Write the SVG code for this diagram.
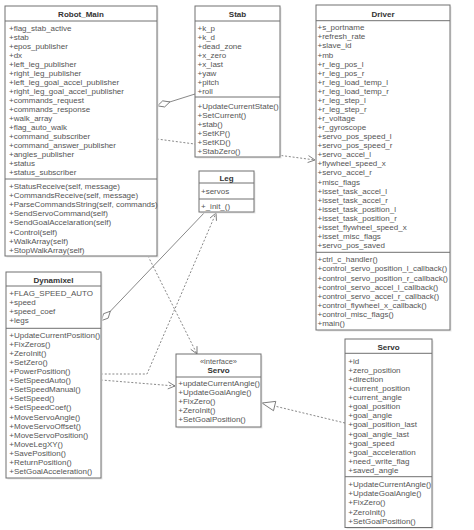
<svg xmlns="http://www.w3.org/2000/svg" width="474" height="530" viewBox="0 0 474 530">
<style>
.bg{fill:#fff}
.sh{fill:#e8e8e8}
.box{fill:#fff;stroke:#707070;stroke-width:1}
.dv{stroke:#707070;stroke-width:1}
.t{font-family:"Liberation Sans",Arial,sans-serif;font-size:8px;fill:#555}
.h{font-family:"Liberation Sans",Arial,sans-serif;font-size:8px;font-weight:bold;fill:#333;text-anchor:middle}
.st{font-family:"Liberation Sans",Arial,sans-serif;font-size:7.5px;fill:#5a5a5a;text-anchor:middle}
.c{fill:none;stroke:#6a6a6a;stroke-width:0.8}
.d{stroke-dasharray:2,1.8}
</style>
<defs>
<marker id="dia" markerUnits="userSpaceOnUse" markerWidth="16" markerHeight="10" refX="0" refY="5" orient="auto" viewBox="0 0 16 10">
<path d="M0.5,5 L7,1.8 L13.5,5 L7,8.2 Z" fill="#fff" stroke="#6a6a6a" stroke-width="0.8"/>
</marker>
<marker id="arr" markerUnits="userSpaceOnUse" markerWidth="10" markerHeight="10" refX="9" refY="5" orient="auto" viewBox="0 0 10 10">
<path d="M2,1.5 L9,5 L2,8.5" fill="none" stroke="#6a6a6a" stroke-width="0.8"/>
</marker>
<marker id="tri" markerUnits="userSpaceOnUse" markerWidth="16" markerHeight="12" refX="14" refY="6" orient="auto" viewBox="0 0 16 12">
<path d="M1,1.2 L14,6 L1,10.8 Z" fill="#fff" stroke="#6a6a6a" stroke-width="0.8"/>
</marker>
</defs>
<rect class="bg" x="0" y="0" width="474" height="530"/>

<g id="connectors">
<path class="c" d="M157,106 L195,94" marker-start="url(#dia)"/>
<path class="c" d="M101,321 L205,212" marker-start="url(#dia)"/>
<path class="c d" d="M157,139 L315,160" marker-end="url(#arr)"/>
<path class="c d" d="M148,256 L197,354" marker-end="url(#arr)"/>
<path class="c d" d="M101,374 L147,374 L216,213" marker-end="url(#arr)"/>
<path class="c d" d="M101,380 L175,386" marker-end="url(#arr)"/>
<path class="c d" d="M345,423 L262,403" marker-end="url(#tri)"/>
</g>

<g id="Robot_Main">
<rect class="sh" x="6.5" y="7.5" width="152" height="250"/>
<rect class="box" x="5" y="6" width="152" height="250"/>
<line class="dv" x1="5" y1="21" x2="157" y2="21"/>
<line class="dv" x1="5" y1="179" x2="157" y2="179"/>
<text class="h" x="81" y="16.5">Robot_Main</text>
<text class="t">
<tspan x="9" y="30.7">+flag_stab_active</tspan>
<tspan x="9" y="39.7">+stab</tspan>
<tspan x="9" y="48.8">+epos_publisher</tspan>
<tspan x="9" y="57.8">+dx</tspan>
<tspan x="9" y="66.9">+left_leg_publisher</tspan>
<tspan x="9" y="75.9">+right_leg_publisher</tspan>
<tspan x="9" y="84.9">+left_leg_goal_accel_publisher</tspan>
<tspan x="9" y="94">+right_leg_goal_accel_publisher</tspan>
<tspan x="9" y="103">+commands_request</tspan>
<tspan x="9" y="112.1">+commands_response</tspan>
<tspan x="9" y="121.1">+walk_array</tspan>
<tspan x="9" y="130.1">+flag_auto_walk</tspan>
<tspan x="9" y="139.2">+command_subscriber</tspan>
<tspan x="9" y="148.2">+command_answer_publisher</tspan>
<tspan x="9" y="157.3">+angles_publisher</tspan>
<tspan x="9" y="166.3">+status</tspan>
<tspan x="9" y="175.3">+status_subscriber</tspan>
<tspan x="9" y="188.7">+StatusReceive(self, message)</tspan>
<tspan x="9" y="197.9">+CommandsReceive(self, message)</tspan>
<tspan x="9" y="207">+ParseCommandsString(self, commands)</tspan>
<tspan x="9" y="216.2">+SendServoCommand(self)</tspan>
<tspan x="9" y="225.3">+SendGoalAccelaration(self)</tspan>
<tspan x="9" y="234.5">+Control(self)</tspan>
<tspan x="9" y="243.6">+WalkArray(self)</tspan>
<tspan x="9" y="252.8">+StopWalkArray(self)</tspan>
</text>
</g>

<g id="Stab">
<rect class="sh" x="196.5" y="7.5" width="85" height="151"/>
<rect class="box" x="195" y="6" width="85" height="151"/>
<line class="dv" x1="195" y1="21" x2="280" y2="21"/>
<line class="dv" x1="195" y1="97" x2="280" y2="97"/>
<text class="h" x="237.5" y="16.7">Stab</text>
<text class="t">
<tspan x="197.5" y="30.7">+k_p</tspan>
<tspan x="197.5" y="39.7">+k_d</tspan>
<tspan x="197.5" y="48.7">+dead_zone</tspan>
<tspan x="197.5" y="57.7">+x_zero</tspan>
<tspan x="197.5" y="66.7">+x_last</tspan>
<tspan x="197.5" y="75.7">+yaw</tspan>
<tspan x="197.5" y="84.7">+pitch</tspan>
<tspan x="197.5" y="93.7">+roll</tspan>
<tspan x="197.5" y="109">+UpdateCurrentState()</tspan>
<tspan x="197.5" y="118">+SetCurrent()</tspan>
<tspan x="197.5" y="127">+stab()</tspan>
<tspan x="197.5" y="136">+SetKP()</tspan>
<tspan x="197.5" y="145">+SetKD()</tspan>
<tspan x="197.5" y="154">+StabZero()</tspan>
</text>
</g>

<g id="Leg">
<rect class="sh" x="200.5" y="172.5" width="55" height="41"/>
<rect class="box" x="199" y="171" width="55" height="41"/>
<line class="dv" x1="199" y1="183" x2="254" y2="183"/>
<line class="dv" x1="199" y1="199" x2="254" y2="199"/>
<text class="h" x="226.5" y="181">Leg</text>
<text class="t">
<tspan x="201" y="194">+servos</tspan>
<tspan x="201" y="208.5">+_init_()</tspan>
</text>
</g>

<g id="Driver">
<rect class="sh" x="317.5" y="6.5" width="134" height="325"/>
<rect class="box" x="316" y="5" width="134" height="325"/>
<line class="dv" x1="316" y1="20.7" x2="450" y2="20.7"/>
<line class="dv" x1="316" y1="252.3" x2="450" y2="252.3"/>
<text class="h" x="383" y="16.5">Driver</text>
<text class="t">
<tspan x="317.5" y="30.3">+s_portname</tspan>
<tspan x="317.5" y="39.4">+refresh_rate</tspan>
<tspan x="317.5" y="48.4">+slave_id</tspan>
<tspan x="317.5" y="57.5">+mb</tspan>
<tspan x="317.5" y="66.6">+r_leg_pos_l</tspan>
<tspan x="317.5" y="75.7">+r_leg_pos_r</tspan>
<tspan x="317.5" y="84.7">+r_leg_load_temp_l</tspan>
<tspan x="317.5" y="93.8">+r_leg_load_temp_r</tspan>
<tspan x="317.5" y="102.9">+r_leg_step_l</tspan>
<tspan x="317.5" y="111.9">+r_leg_step_r</tspan>
<tspan x="317.5" y="121">+r_voltage</tspan>
<tspan x="317.5" y="130.1">+r_gyroscope</tspan>
<tspan x="317.5" y="139.1">+servo_pos_speed_l</tspan>
<tspan x="317.5" y="148.2">+servo_pos_speed_r</tspan>
<tspan x="317.5" y="157.3">+servo_accel_l</tspan>
<tspan x="317.5" y="166.4">+flywheel_speed_x</tspan>
<tspan x="317.5" y="175.4">+servo_accel_r</tspan>
<tspan x="317.5" y="184.5">+misc_flags</tspan>
<tspan x="317.5" y="193.6">+isset_task_accel_l</tspan>
<tspan x="317.5" y="202.6">+isset_task_accel_r</tspan>
<tspan x="317.5" y="211.7">+isset_task_position_l</tspan>
<tspan x="317.5" y="220.8">+isset_task_position_r</tspan>
<tspan x="317.5" y="229.8">+isset_flywheel_speed_x</tspan>
<tspan x="317.5" y="238.9">+isset_misc_flags</tspan>
<tspan x="317.5" y="248">+servo_pos_saved</tspan>
<tspan x="317.5" y="262.3">+ctrl_c_handler()</tspan>
<tspan x="317.5" y="271.4">+control_servo_position_l_callback()</tspan>
<tspan x="317.5" y="280.5">+control_servo_position_r_callback()</tspan>
<tspan x="317.5" y="289.6">+control_servo_accel_l_callback()</tspan>
<tspan x="317.5" y="298.7">+control_servo_accel_r_callback()</tspan>
<tspan x="317.5" y="307.8">+control_flywheel_x_callback()</tspan>
<tspan x="317.5" y="316.9">+control_misc_flags()</tspan>
<tspan x="317.5" y="326">+main()</tspan>
</text>
</g>

<g id="Dynamixel">
<rect class="sh" x="7.5" y="273.5" width="95" height="206"/>
<rect class="box" x="6" y="272" width="95" height="206"/>
<line class="dv" x1="6" y1="286" x2="101" y2="286"/>
<line class="dv" x1="6" y1="328.3" x2="101" y2="328.3"/>
<text class="h" x="53.5" y="283">Dynamixel</text>
<text class="t">
<tspan x="9.3" y="296.3">+FLAG_SPEED_AUTO</tspan>
<tspan x="9.3" y="305.3">+speed</tspan>
<tspan x="9.3" y="314.3">+speed_coef</tspan>
<tspan x="9.3" y="323.3">+legs</tspan>
<tspan x="9.3" y="337.7">+UpdateCurrentPosition()</tspan>
<tspan x="9.3" y="346.8">+FixZeros()</tspan>
<tspan x="9.3" y="355.9">+ZeroInit()</tspan>
<tspan x="9.3" y="365">+SetZero()</tspan>
<tspan x="9.3" y="374.1">+PowerPosition()</tspan>
<tspan x="9.3" y="383.2">+SetSpeedAuto()</tspan>
<tspan x="9.3" y="392.2">+SetSpeedManual()</tspan>
<tspan x="9.3" y="401.3">+SetSpeed()</tspan>
<tspan x="9.3" y="410.4">+SetSpeedCoef()</tspan>
<tspan x="9.3" y="419.5">+MoveServoAngle()</tspan>
<tspan x="9.3" y="428.6">+MoveServoOffset()</tspan>
<tspan x="9.3" y="437.7">+MoveServoPosition()</tspan>
<tspan x="9.3" y="446.8">+MoveLegXY()</tspan>
<tspan x="9.3" y="455.9">+SavePosition()</tspan>
<tspan x="9.3" y="464.9">+ReturnPosition()</tspan>
<tspan x="9.3" y="474">+SetGoalAcceleration()</tspan>
</text>
</g>

<g id="ServoInterface">
<rect class="sh" x="177.5" y="355.5" width="85" height="73"/>
<rect class="box" x="176" y="354" width="85" height="73"/>
<line class="dv" x1="176" y1="377" x2="261" y2="377"/>
<text class="st" x="218.5" y="364">«interface»</text>
<text class="h" x="218.5" y="373">Servo</text>
<text class="t">
<tspan x="178.3" y="386.3">+updateCurrentAngle()</tspan>
<tspan x="178.3" y="395.3">+UpdateGoalAngle()</tspan>
<tspan x="178.3" y="404.3">+FixZero()</tspan>
<tspan x="178.3" y="413.3">+ZeroInit()</tspan>
<tspan x="178.3" y="422.3">+SetGoalPosition()</tspan>
</text>
</g>

<g id="Servo">
<rect class="sh" x="346.5" y="340.5" width="87" height="188.5"/>
<rect class="box" x="345" y="339" width="87" height="188.5"/>
<line class="dv" x1="345" y1="353.3" x2="432" y2="353.3"/>
<line class="dv" x1="345" y1="476.7" x2="432" y2="476.7"/>
<text class="h" x="388.5" y="350.3">Servo</text>
<text class="t">
<tspan x="348.3" y="363.7">+id</tspan>
<tspan x="348.3" y="372.8">+zero_position</tspan>
<tspan x="348.3" y="381.9">+direction</tspan>
<tspan x="348.3" y="391">+current_position</tspan>
<tspan x="348.3" y="400.1">+current_angle</tspan>
<tspan x="348.3" y="409.2">+goal_position</tspan>
<tspan x="348.3" y="418.3">+goal_angle</tspan>
<tspan x="348.3" y="427.4">+goal_position_last</tspan>
<tspan x="348.3" y="436.5">+goal_angle_last</tspan>
<tspan x="348.3" y="445.6">+goal_speed</tspan>
<tspan x="348.3" y="454.7">+goal_acceleration</tspan>
<tspan x="348.3" y="463.8">+need_write_flag</tspan>
<tspan x="348.3" y="472.9">+saved_angle</tspan>
<tspan x="348.3" y="487">+UpdateCurrentAngle()</tspan>
<tspan x="348.3" y="496.2">+UpdateGoalAngle()</tspan>
<tspan x="348.3" y="505.3">+FixZero()</tspan>
<tspan x="348.3" y="514.5">+ZeroInit()</tspan>
<tspan x="348.3" y="523.7">+SetGoalPosition()</tspan>
</text>
</g>
</svg>
